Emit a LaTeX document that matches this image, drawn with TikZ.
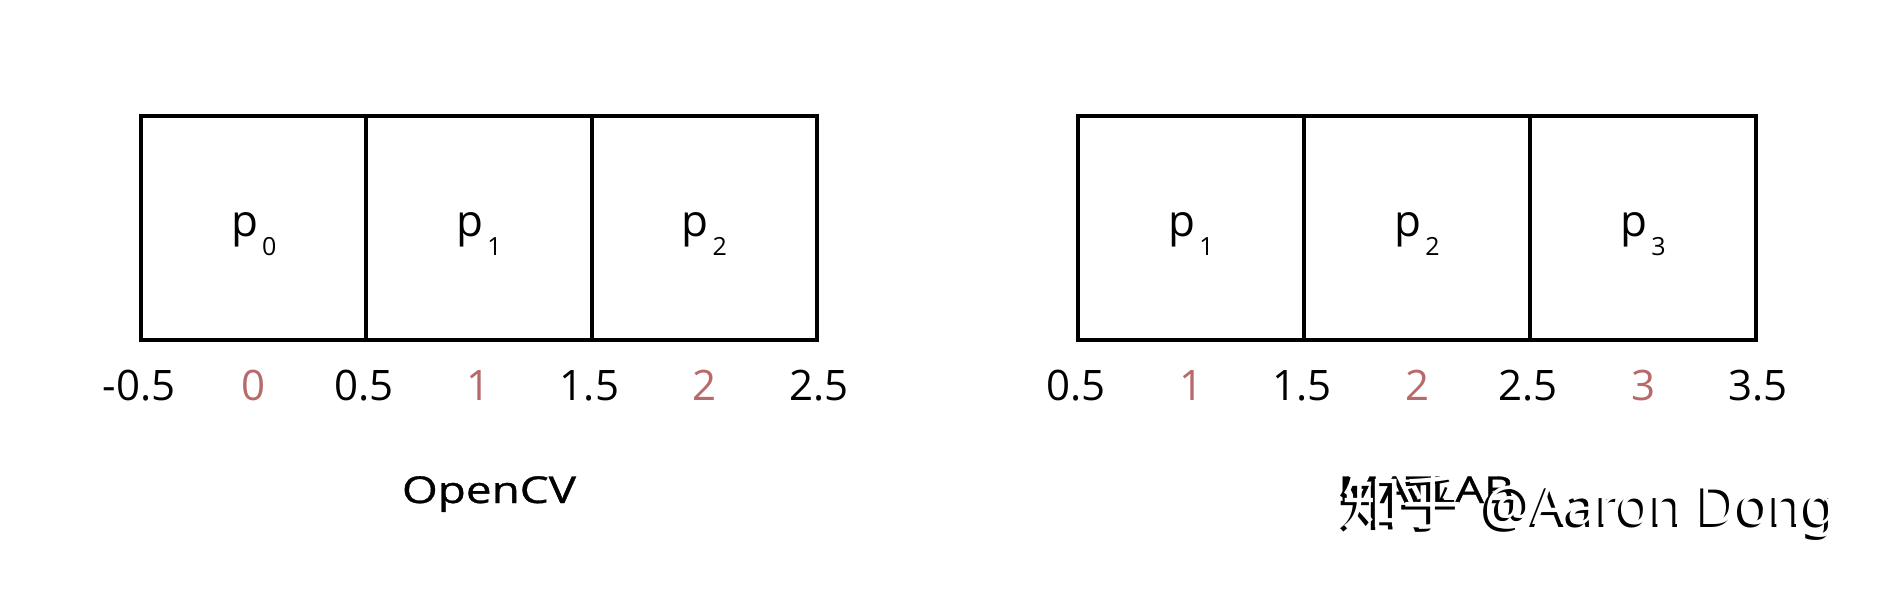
\documentclass[tikz,border=0pt]{standalone}
\usepackage{fontspec}
\setmainfont{Open Sans}
\newfontfamily\ttlfont[FakeBold=0.8]{Open Sans}
\newfontfamily\cjk{Noto Sans CJK SC}
\newfontfamily\notolat{Noto Sans}
\definecolor{idxred}{RGB}{184,106,106}
\newcommand\psub[1]{p\kern4pt\raisebox{-18.5pt}{\fontsize{25}{25}\selectfont #1}}
\newcommand\wmtext{{\cjk\fontsize{60}{60}\selectfont 知乎}\kern22pt{\notolat\fontsize{54}{54}\selectfont @Aaron Dong}}
\tikzset{
  cell/.style={draw=black, line width=4pt, minimum width=225.5pt, minimum height=224pt, inner sep=0pt},
  ptxt/.style={font=\fontsize{44}{44}\selectfont, inner sep=0pt, anchor=base},
  num/.style={font=\fontsize{42}{42}\selectfont, inner sep=0pt, anchor=base},
  idx/.style={num, text=idxred},
  ttl/.style={font=\ttlfont\fontsize{37}{37}\selectfont, inner sep=0pt, anchor=base},
  wmshadow/.style={inner sep=0pt, anchor=base west, text=black},
  wmfront/.style={inner sep=0pt, anchor=base west, text=white}
}
\begin{document}
\begin{tikzpicture}[x=1pt,y=-1pt]
\useasboundingbox (0,0) rectangle (1880,592);
% left: OpenCV
\node[cell] (a0) at (253.7,227.5) {};
\node[cell] (a1) at (479,227.5) {};
\node[cell] (a2) at (704.3,227.5) {};
\node[ptxt] (pa0) at ([yshift=-9pt]a0.center) {\psub{0}};
\node[ptxt] (pa1) at ([yshift=-9pt]a1.center) {\psub{1}};
\node[ptxt] (pa2) at ([yshift=-9pt]a2.center) {\psub{2}};
\node[num] (na0) at ([yshift=-58.5pt]a0.south west) {-0.5};
\node[idx] (ia0) at ([yshift=-58.5pt]a0.south) {0};
\node[num] (na1) at ([yshift=-58.5pt]a1.south west) {0.5};
\node[idx] (ia1) at ([yshift=-58.5pt]a1.south) {1};
\node[num] (na2) at ([yshift=-58.5pt]a2.south west) {1.5};
\node[idx] (ia2) at ([yshift=-58.5pt]a2.south) {2};
\node[num] (na3) at ([yshift=-58.5pt]a2.south east) {2.5};
\node[ttl] (tocv) at ([xshift=10pt,yshift=-161.5pt]a1.south) {\scalebox{1.24}[1]{OpenCV}};
% right: MATLAB
\node[cell] (b0) at (1191,227.5) {};
\node[cell] (b1) at (1417,227.5) {};
\node[cell] (b2) at (1643,227.5) {};
\node[ptxt] (pb0) at ([yshift=-9pt]b0.center) {\psub{1}};
\node[ptxt] (pb1) at ([yshift=-9pt]b1.center) {\psub{2}};
\node[ptxt] (pb2) at ([yshift=-9pt]b2.center) {\psub{3}};
\node[num] (nb0) at ([yshift=-58.5pt]b0.south west) {0.5};
\node[idx] (ib0) at ([yshift=-58.5pt]b0.south) {1};
\node[num] (nb1) at ([yshift=-58.5pt]b1.south west) {1.5};
\node[idx] (ib1) at ([yshift=-58.5pt]b1.south) {2};
\node[num] (nb2) at ([yshift=-58.5pt]b2.south west) {2.5};
\node[idx] (ib2) at ([yshift=-58.5pt]b2.south) {3};
\node[num] (nb3) at ([yshift=-58.5pt]b2.south east) {3.5};
\node[ttl] (tmat) at ([xshift=9pt,yshift=-161.5pt]b1.south) {\scalebox{1.24}[1]{MATLAB}};
% watermark
\node[wmshadow] (wms) at (1338.5,527.5) {\wmtext};
\node[wmfront] (wmf) at (1342,524) {\wmtext};
\end{tikzpicture}
\end{document}
